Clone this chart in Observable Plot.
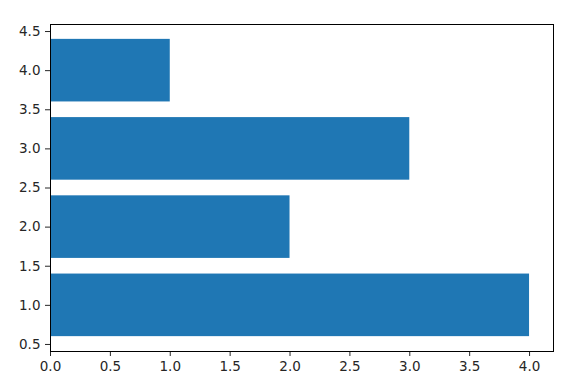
<!DOCTYPE html>
<html>
<head>
<meta charset="utf-8">
<script src="https://cdn.jsdelivr.net/npm/d3@7"></script>
<script src="https://cdn.jsdelivr.net/npm/@observablehq/plot@0.6"></script>
<style>
  html, body { margin: 0; padding: 0; background: #fff; }
  #chart svg { display: block; }
</style>
</head>
<body>
<div id="chart"></div>
<script>
const positions = [1, 2, 3, 4];
const widths = [4, 2, 3, 1];
const xTicks = [0, 0.5, 1.0, 1.5, 2.0, 2.5, 3.0, 3.5, 4.0];
const yTicks = [0.5, 1.0, 1.5, 2.0, 2.5, 3.0, 3.5, 4.0, 4.5];
const barHeight = 0.8;

const data = positions.map((p, i) => ({pos: p, w: widths[i]}));

const chart = Plot.plot({
  width: 588,
  height: 385,
  marginLeft: 50,
  marginTop: 24,
  marginRight: 35,
  marginBottom: 34,
  style: {fontFamily: "DejaVu Sans", color: "#262626", background: "#fff"},
  x: {domain: [0, 4.2]},
  y: {domain: [0.41, 4.59]},
  marks: [
    Plot.rectX(data, {x1: 0, x2: "w", y1: d => d.pos - barHeight / 2, y2: d => d.pos + barHeight / 2, fill: "#1f77b4"}),
    Plot.axisX({ticks: xTicks, tickFormat: d3.format(".1f"), label: null, tickSize: 5, tickPadding: 5, fontSize: 13.5}),
    Plot.axisY({ticks: yTicks, tickFormat: d3.format(".1f"), label: null, tickSize: 5, tickPadding: 5, fontSize: 13.5}),
    Plot.frame({stroke: "#000", strokeWidth: 1})
  ]
});
document.getElementById("chart").appendChild(chart);
</script>
</body>
</html>
